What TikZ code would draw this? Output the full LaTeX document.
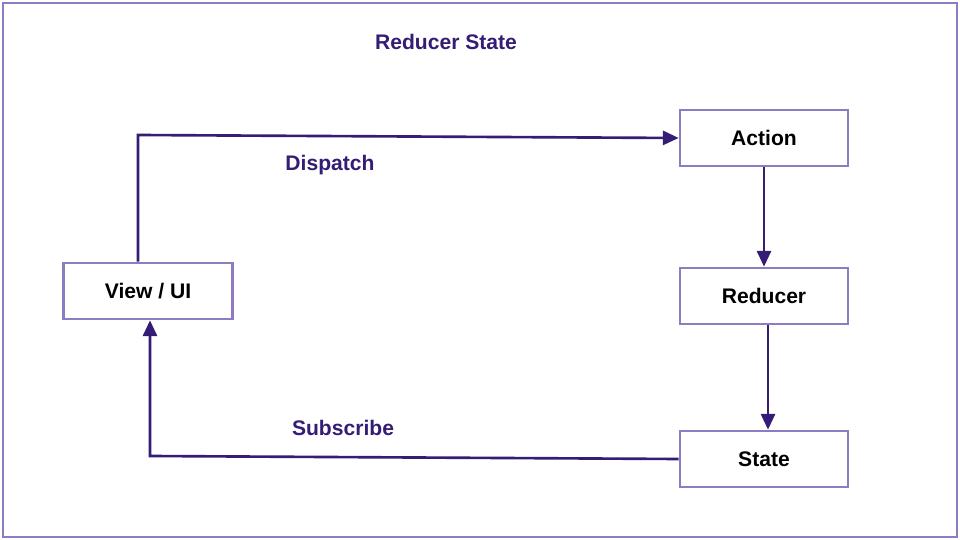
\documentclass[tikz,border=0pt]{standalone}
\usepackage{fontspec}
\setmainfont{Liberation Sans}
\usetikzlibrary{positioning,arrows.meta}
\definecolor{boxline}{HTML}{8E7CC3}
\definecolor{flow}{HTML}{351C75}

\begin{document}
\begin{tikzpicture}[x=0.02cm,y=-0.02cm,
  box/.style={draw=boxline, line width=1.5pt, rectangle, minimum width=3.36cm, minimum height=1.12cm, font=\fontsize{12}{14}\selectfont\bfseries},
  lbl/.style={text=flow, font=\fontsize{12}{14}\selectfont\bfseries},
  flw/.style={-{Triangle[length=9pt,width=8pt]}, line width=1.5pt, flow}]
\draw[boxline, line width=1.5pt] (3,3) rectangle (957,537);
\useasboundingbox (0,0) rectangle (960,540);

\node[lbl] (title) at (446,42) {Reducer State};
\node[box] (action) at (764,138) {Action};
\node[box] (reducer) at (764,296) {Reducer};
\node[box] (state) at (764,459) {State};
\node[box, minimum width=3.38cm] (view) at (148,291) {View / UI};
\node[lbl] (dispatch) at (330,165) {Dispatch};
\node[lbl] (subscribe) at (343,428) {Subscribe};

\coordinate (c1) at (138,135);
\coordinate (c2) at (150,456);
\draw [flw] (view.north -| c1) -- (c1) -- (action.west);
\draw [flw] (action.south) -- (reducer.north);
\draw [flw] ([xshift=0.08cm] reducer.south) -- ([xshift=0.08cm] state.north);
\draw [flw] (state.west) -- (c2) -- (view.south -| c2);
\end{tikzpicture}
\end{document}
